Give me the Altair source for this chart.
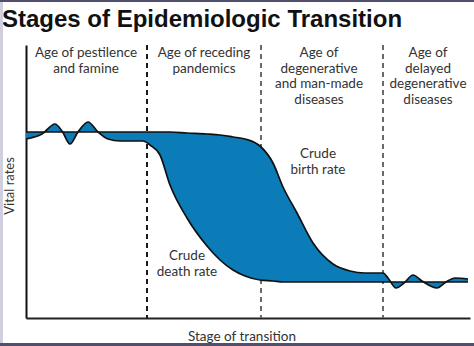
import altair as alt
import pandas as pd

# Time along the transition (0 = start, 444 = end) and vital rates (0 = bottom)
time = [0, 16, 29, 36, 44, 52, 62, 72, 82, 94, 117, 124, 134, 144, 161, 181, 194,
        207, 219, 234, 247, 257, 271, 287, 307, 324, 339, 357, 362, 370, 378, 387,
        396, 411, 420, 429, 442]
birth_rate = [186, 186, 186, 186, 186, 186, 186, 186, 186, 186, 186, 186, 186, 186,
              185, 184, 183, 181, 179, 172, 155, 131, 105, 75, 54, 47, 45, 45, 40,
              30, 35, 43, 37, 30, 36, 40, 39]
death_rate = [179, 184, 194, 187, 174, 186, 196, 186, 179, 177, 177, 173, 163, 133,
              100, 72, 58, 48, 42, 38, 37, 36, 36, 36, 36, 36, 36, 36, 36, 36, 36,
              36, 36, 36, 36, 36, 36]

stage_bounds = [121, 235, 357]
stage_colors = ["#1a1a1a", "#6a6a6a", "#6a6a6a"]

stage_labels = ["Age of pestilence\nand famine",
                "Age of receding\npandemics",
                "Age of\ndegenerative\nand man-made\ndiseases",
                "Age of\ndelayed\ndegenerative\ndiseases"]
stage_label_x = [60, 178, 293, 402]
stage_label_y = [261, 261, 261, 261]

curve_labels = ["Crude\nbirth rate", "Crude\ndeath rate"]
curve_label_x = [292, 161]
curve_label_y = [160, 58]

W, H = 444, 273
xs = alt.Scale(domain=[0, W], nice=False, zero=False)
ys = alt.Scale(domain=[0, H], nice=False, zero=False)

df = pd.DataFrame({"t": time, "birth": birth_rate, "death": death_rate})
rules_df = pd.DataFrame({"t": stage_bounds, "c": stage_colors})
stage_df = pd.DataFrame({"x": stage_label_x, "y": stage_label_y, "label": stage_labels})
curve_df = pd.DataFrame({"x": curve_label_x, "y": curve_label_y, "label": curve_labels})
dummy = pd.DataFrame({"a": [0]})

ax_x = alt.Axis(domain=True, domainColor="#222", domainWidth=2, ticks=False,
                labels=False, grid=False, title=None)
ax_y = alt.Axis(domain=True, domainColor="#111", domainWidth=2, ticks=False,
                labels=False, grid=False, title=None)

rules = alt.Chart(rules_df).mark_rule(strokeDash=[5, 4], strokeWidth=2).encode(
    x=alt.X("t:Q", scale=xs, axis=ax_x),
    y=alt.value(0), y2=alt.value(H),
    color=alt.Color("c:N", scale=None),
)

area = alt.Chart(df).mark_area(interpolate="monotone", color="#0b7cb7", opacity=1).encode(
    x=alt.X("t:Q", scale=xs, axis=ax_x),
    y=alt.Y("birth:Q", scale=ys, axis=ax_y),
    y2="death:Q",
)

birth_line = alt.Chart(df).mark_line(interpolate="monotone", color="#111", strokeWidth=1.7).encode(
    x=alt.X("t:Q", scale=xs), y=alt.Y("birth:Q", scale=ys))
death_line = alt.Chart(df).mark_line(interpolate="monotone", color="#111", strokeWidth=1.7).encode(
    x=alt.X("t:Q", scale=xs), y=alt.Y("death:Q", scale=ys))

stage_text = alt.Chart(stage_df).mark_text(
    font="Lato", fontSize=13.5, color="#333", align="center", baseline="alphabetic",
    lineBreak="\n", lineHeight=15.5).encode(
    x=alt.X("x:Q", scale=xs), y=alt.Y("y:Q", scale=ys), text="label:N")

curve_text = alt.Chart(curve_df).mark_text(
    font="Lato", fontSize=13.5, color="#333", align="center", baseline="alphabetic",
    lineBreak="\n", lineHeight=16).encode(
    x=alt.X("x:Q", scale=xs), y=alt.Y("y:Q", scale=ys), text="label:N")

title = alt.Chart(dummy).mark_text(
    text="Stages of Epidemiologic Transition", font="Liberation Sans", fontSize=24,
    fontWeight="bold", color="#111", align="left", baseline="alphabetic").encode(
    x=alt.value(-24), y=alt.value(-18))

ytitle = alt.Chart(dummy).mark_text(
    text="Vital rates", font="Lato", fontSize=13, color="#333", angle=270,
    align="center", baseline="middle").encode(x=alt.value(-16), y=alt.value(141))

xtitle = alt.Chart(dummy).mark_text(
    text="Stage of transition", font="Lato", fontSize=13.5, color="#333",
    align="center", baseline="alphabetic").encode(x=alt.value(216), y=alt.value(H + 23))

top_band = alt.Chart(dummy).mark_rect(color="#50506e").encode(
    x=alt.value(-26), x2=alt.value(448), y=alt.value(-45), y2=alt.value(-43))
bottom_band = alt.Chart(dummy).mark_rect(color="#50506e").encode(
    x=alt.value(-26), x2=alt.value(448), y=alt.value(H + 25), y2=alt.value(H + 28))
left_band = alt.Chart(dummy).mark_rect(color="#cfcfe0").encode(
    x=alt.value(-26), x2=alt.value(-23), y=alt.value(-43), y2=alt.value(H + 25))

chart = alt.layer(
    rules, area, birth_line, death_line, stage_text, curve_text, title, ytitle, xtitle,
    top_band, bottom_band, left_band
).properties(
    width=W, height=H,
    autosize=alt.AutoSizeParams(type="none"),
    padding={"left": 26, "top": 45, "right": 4, "bottom": 28},
    background="white",
).configure_view(stroke=None)

chart.save("out.html", embed_options={"renderer": "svg", "actions": False})
